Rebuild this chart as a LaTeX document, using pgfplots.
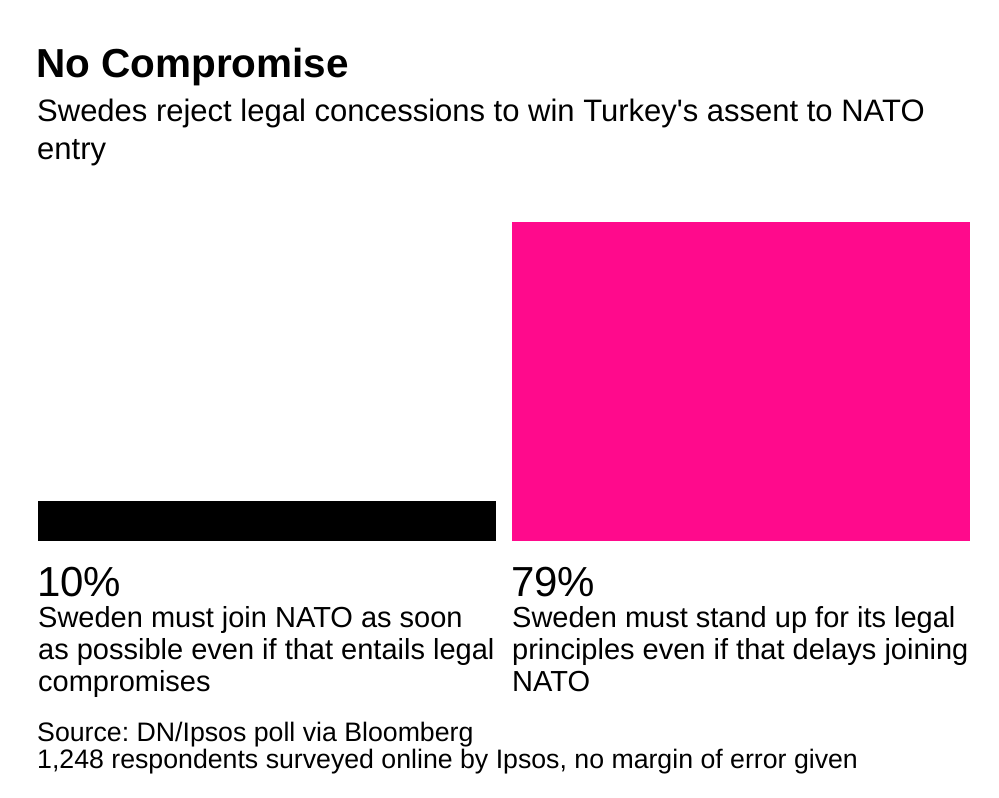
\documentclass[border=0pt]{standalone}
\usepackage{pgfplots}
\pgfplotsset{compat=1.18}
\usepackage{fontspec}
\setmainfont{Liberation Sans}[Ligatures=TeXOff]
\frenchspacing
\definecolor{bpink}{HTML}{FF0A8C}
\begin{document}
\begin{tikzpicture}[x=1pt,y=1pt]
\useasboundingbox (0,0) rectangle (999,798);
\begin{axis}[
  at={(38pt,257pt)}, anchor=south west,
  scale only axis, width=932pt, height=319pt,
  xmin=38, xmax=970, ymin=0, ymax=79,
  axis lines=none, ticks=none,
  ybar, bar width=458, bar shift=0pt,
  clip=false,
]
\addplot[fill=black, draw=none] coordinates {(267,10)};
\addplot[fill=bpink, draw=none] coordinates {(741,79)};
\end{axis}
\tikzset{t/.style={anchor=base west, inner sep=0pt}}
\node[t, font=\fontsize{40.5}{44}\selectfont\bfseries] at (36,720) {No Compromise};
\begin{scope}[font=\fontsize{31}{40}\selectfont]
\node[t] at (37,676) {Swedes reject legal concessions to win Turkey's assent to NATO};
\node[t] at (37,638) {entry};
\end{scope}
\begin{scope}[font=\fontsize{42}{44}\selectfont]
\node[t] at (37,201) {10\%};
\node[t] at (511,201) {79\%};
\end{scope}
\begin{scope}[font=\fontsize{29}{32}\selectfont]
\node[t] at (38,170) {Sweden must join NATO as soon};
\node[t] at (38,138) {as possible even if that entails legal};
\node[t] at (38,106) {compromises};
\node[t] at (512,170) {Sweden must stand up for its legal};
\node[t] at (512,138) {principles even if that delays joining};
\node[t] at (512,106) {NATO};
\end{scope}
\begin{scope}[font=\fontsize{26.7}{28}\selectfont]
\node[t] at (37,56) {Source: DN/Ipsos poll via Bloomberg};
\node[t] at (37,29) {1,248 respondents surveyed online by Ipsos, no margin of error given};
\end{scope}
\end{tikzpicture}
\end{document}
